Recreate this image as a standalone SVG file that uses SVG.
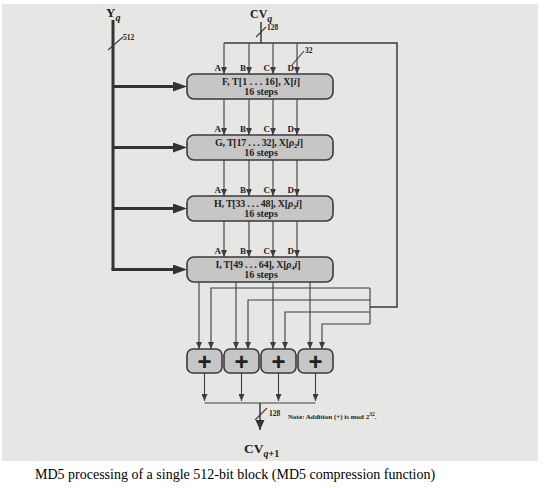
<svg xmlns="http://www.w3.org/2000/svg" width="544" height="488" viewBox="0 0 544 488">
<style>
.ln{fill:none;stroke:#3c3c3c;stroke-width:1.1}
.fb{fill:none;stroke:#3a3a3a;stroke-width:1.5}
.thk{fill:none;stroke:#333;stroke-width:3}
.box{fill:#c6c6c6;stroke:#3a3a3a;stroke-width:1.6}
.t{font-family:"Liberation Serif","Times New Roman",serif;font-weight:bold;fill:#222}
.bt{font-size:10px;text-anchor:middle}
.lb{font-size:9px;text-anchor:end}
.sm{font-size:7.5px}
.plus{font-family:"Liberation Sans",Arial,sans-serif;font-weight:bold;font-size:24px;text-anchor:middle;fill:#222}
.it{font-style:italic}
</style>
<defs>
<marker id="a" viewBox="0 0 7 6" refX="7" refY="3" markerWidth="7" markerHeight="6" markerUnits="userSpaceOnUse" orient="auto"><path d="M0,0L7,3L0,6z" fill="#3c3c3c"/></marker>
<marker id="A" viewBox="0 0 14 10" refX="7" refY="5" markerWidth="14" markerHeight="10" markerUnits="userSpaceOnUse" orient="auto"><path d="M0,0L14,5L0,10z" fill="#333"/></marker>
<marker id="B" viewBox="0 0 10 9" refX="10" refY="4.5" markerWidth="10" markerHeight="9" markerUnits="userSpaceOnUse" orient="auto"><path d="M0,0L10,4.5L0,9z" fill="#333"/></marker>
</defs>
<rect x="0" y="0" width="544" height="488" fill="#ffffff"/>
<rect x="2" y="4" width="536" height="457" fill="#e6e6e4"/>

<g id="connectors">
  <path class="thk" d="M113,20 V269.5"/>
  <path class="thk" d="M113,86.5 H180" marker-end="url(#A)"/>
  <path class="thk" d="M113,147.5 H180" marker-end="url(#A)"/>
  <path class="thk" d="M113,208.5 H180" marker-end="url(#A)"/>
  <path class="thk" d="M113,268 V269.5 H180" marker-end="url(#A)"/>
  <path class="fb" d="M261,22 V43"/>
  <path class="fb" d="M224,43 H397 V307 H370"/>
  <path class="ln" d="M224,43 V74" marker-end="url(#a)"/>
  <path class="ln" d="M249,43 V74" marker-end="url(#a)"/>
  <path class="ln" d="M273,43 V74" marker-end="url(#a)"/>
  <path class="ln" d="M297,43 V74" marker-end="url(#a)"/>
  <path class="ln" d="M224,99 V135" marker-end="url(#a)"/>
  <path class="ln" d="M249,99 V135" marker-end="url(#a)"/>
  <path class="ln" d="M273,99 V135" marker-end="url(#a)"/>
  <path class="ln" d="M297,99 V135" marker-end="url(#a)"/>
  <path class="ln" d="M224,160 V196" marker-end="url(#a)"/>
  <path class="ln" d="M249,160 V196" marker-end="url(#a)"/>
  <path class="ln" d="M273,160 V196" marker-end="url(#a)"/>
  <path class="ln" d="M297,160 V196" marker-end="url(#a)"/>
  <path class="ln" d="M224,221 V257" marker-end="url(#a)"/>
  <path class="ln" d="M249,221 V257" marker-end="url(#a)"/>
  <path class="ln" d="M273,221 V257" marker-end="url(#a)"/>
  <path class="ln" d="M297,221 V257" marker-end="url(#a)"/>
  <path class="ln" d="M199,282 V349" marker-end="url(#a)"/>
  <path class="ln" d="M236,282 V349" marker-end="url(#a)"/>
  <path class="ln" d="M273,282 V349" marker-end="url(#a)"/>
  <path class="ln" d="M310,282 V349" marker-end="url(#a)"/>
  <path class="ln" d="M370,288 V324"/>
  <path class="ln" d="M370,288 H211 V349" marker-end="url(#a)"/>
  <path class="ln" d="M370,300 H248 V349" marker-end="url(#a)"/>
  <path class="ln" d="M370,312 H285 V349" marker-end="url(#a)"/>
  <path class="ln" d="M370,324 H322 V349" marker-end="url(#a)"/>
  <path class="ln" d="M204.5,373 V401" marker-end="url(#a)"/>
  <path class="ln" d="M241.5,373 V401" marker-end="url(#a)"/>
  <path class="ln" d="M278.5,373 V401" marker-end="url(#a)"/>
  <path class="ln" d="M315.5,373 V401" marker-end="url(#a)"/>
  <path class="ln" d="M204.5,403 H315.5"/>
  <path class="fb" d="M260,403 V430" marker-end="url(#B)"/>
  <path class="ln" d="M108,50 L123,37"/>
  <path class="ln" d="M256,37 L266,27"/>
  <path class="ln" d="M292,65 L304,51"/>
  <path class="ln" d="M255,420 L267,408"/>
</g>

<g id="labels">
  <text class="t" x="106" y="17" font-size="13">Y<tspan class="it" font-size="10" dy="4">q</tspan></text>
  <text class="t" x="250" y="18" font-size="12">CV<tspan class="it" font-size="10" dy="4">q</tspan></text>
  <text class="t sm" x="123" y="40">512</text>
  <text class="t sm" x="267" y="30">128</text>
  <text class="t sm" x="305" y="53">32</text>
  <text class="t sm" x="269" y="416">128</text>
  <text class="t" x="244" y="453" font-size="13.5">CV<tspan class="it" font-size="10" dy="4">q</tspan><tspan font-size="10">+1</tspan></text>
  <text class="t" x="288" y="419" font-size="7">Note:  Addition (+) is mod 2<tspan font-size="5.5" dy="-3">32</tspan><tspan dy="3">.</tspan></text>
  <text x="35" y="479" font-family="Liberation Serif, Times New Roman, serif" font-size="14" fill="#000">MD5 processing of a single 512-bit block (MD5 compression function)</text>
</g>

<g id="round1">
  <rect class="box" x="187" y="74" width="146" height="25" rx="7"/>
  <text class="t lb" x="221" y="71">A</text><text class="t lb" x="246" y="71">B</text><text class="t lb" x="270" y="71">C</text><text class="t lb" x="294" y="71">D</text>
  <text class="t bt" x="261" y="85" textLength="78" lengthAdjust="spacing">F, T[1 . . . 16], X[<tspan class="it">i</tspan>]</text>
  <text class="t bt" x="261" y="95">16 steps</text>
</g>
<g id="round2">
  <rect class="box" x="187" y="135" width="146" height="25" rx="7"/>
  <text class="t lb" x="221" y="132">A</text><text class="t lb" x="246" y="132">B</text><text class="t lb" x="270" y="132">C</text><text class="t lb" x="294" y="132">D</text>
  <text class="t bt" x="259" y="146" textLength="88" lengthAdjust="spacing">G, T[17 . . . 32], X[<tspan class="it">ρ</tspan><tspan font-size="7" dy="2">2</tspan><tspan class="it" dy="-2">i</tspan>]</text>
  <text class="t bt" x="261" y="156">16 steps</text>
</g>
<g id="round3">
  <rect class="box" x="187" y="196" width="146" height="25" rx="7"/>
  <text class="t lb" x="221" y="193">A</text><text class="t lb" x="246" y="193">B</text><text class="t lb" x="270" y="193">C</text><text class="t lb" x="294" y="193">D</text>
  <text class="t bt" x="258" y="207" textLength="88" lengthAdjust="spacing">H, T[33 . . . 48], X[<tspan class="it">ρ</tspan><tspan font-size="7" dy="2">3</tspan><tspan class="it" dy="-2">i</tspan>]</text>
  <text class="t bt" x="261" y="217">16 steps</text>
</g>
<g id="round4">
  <rect class="box" x="187" y="257" width="146" height="25" rx="7"/>
  <text class="t lb" x="221" y="254">A</text><text class="t lb" x="246" y="254">B</text><text class="t lb" x="270" y="254">C</text><text class="t lb" x="294" y="254">D</text>
  <text class="t bt" x="258" y="268" textLength="85" lengthAdjust="spacing">I, T[49 . . . 64], X[<tspan class="it">ρ</tspan><tspan font-size="7" dy="2">4</tspan><tspan class="it" dy="-2">i</tspan>]</text>
  <text class="t bt" x="261" y="278">16 steps</text>
</g>
<g id="adder1"><rect class="box" x="187" y="349" width="35" height="24" rx="6"/><text class="plus" x="204.5" y="370">+</text></g>
<g id="adder2"><rect class="box" x="224" y="349" width="35" height="24" rx="6"/><text class="plus" x="241.5" y="370">+</text></g>
<g id="adder3"><rect class="box" x="261" y="349" width="35" height="24" rx="6"/><text class="plus" x="278.5" y="370">+</text></g>
<g id="adder4"><rect class="box" x="298" y="349" width="35" height="24" rx="6"/><text class="plus" x="315.5" y="370">+</text></g>
</svg>
